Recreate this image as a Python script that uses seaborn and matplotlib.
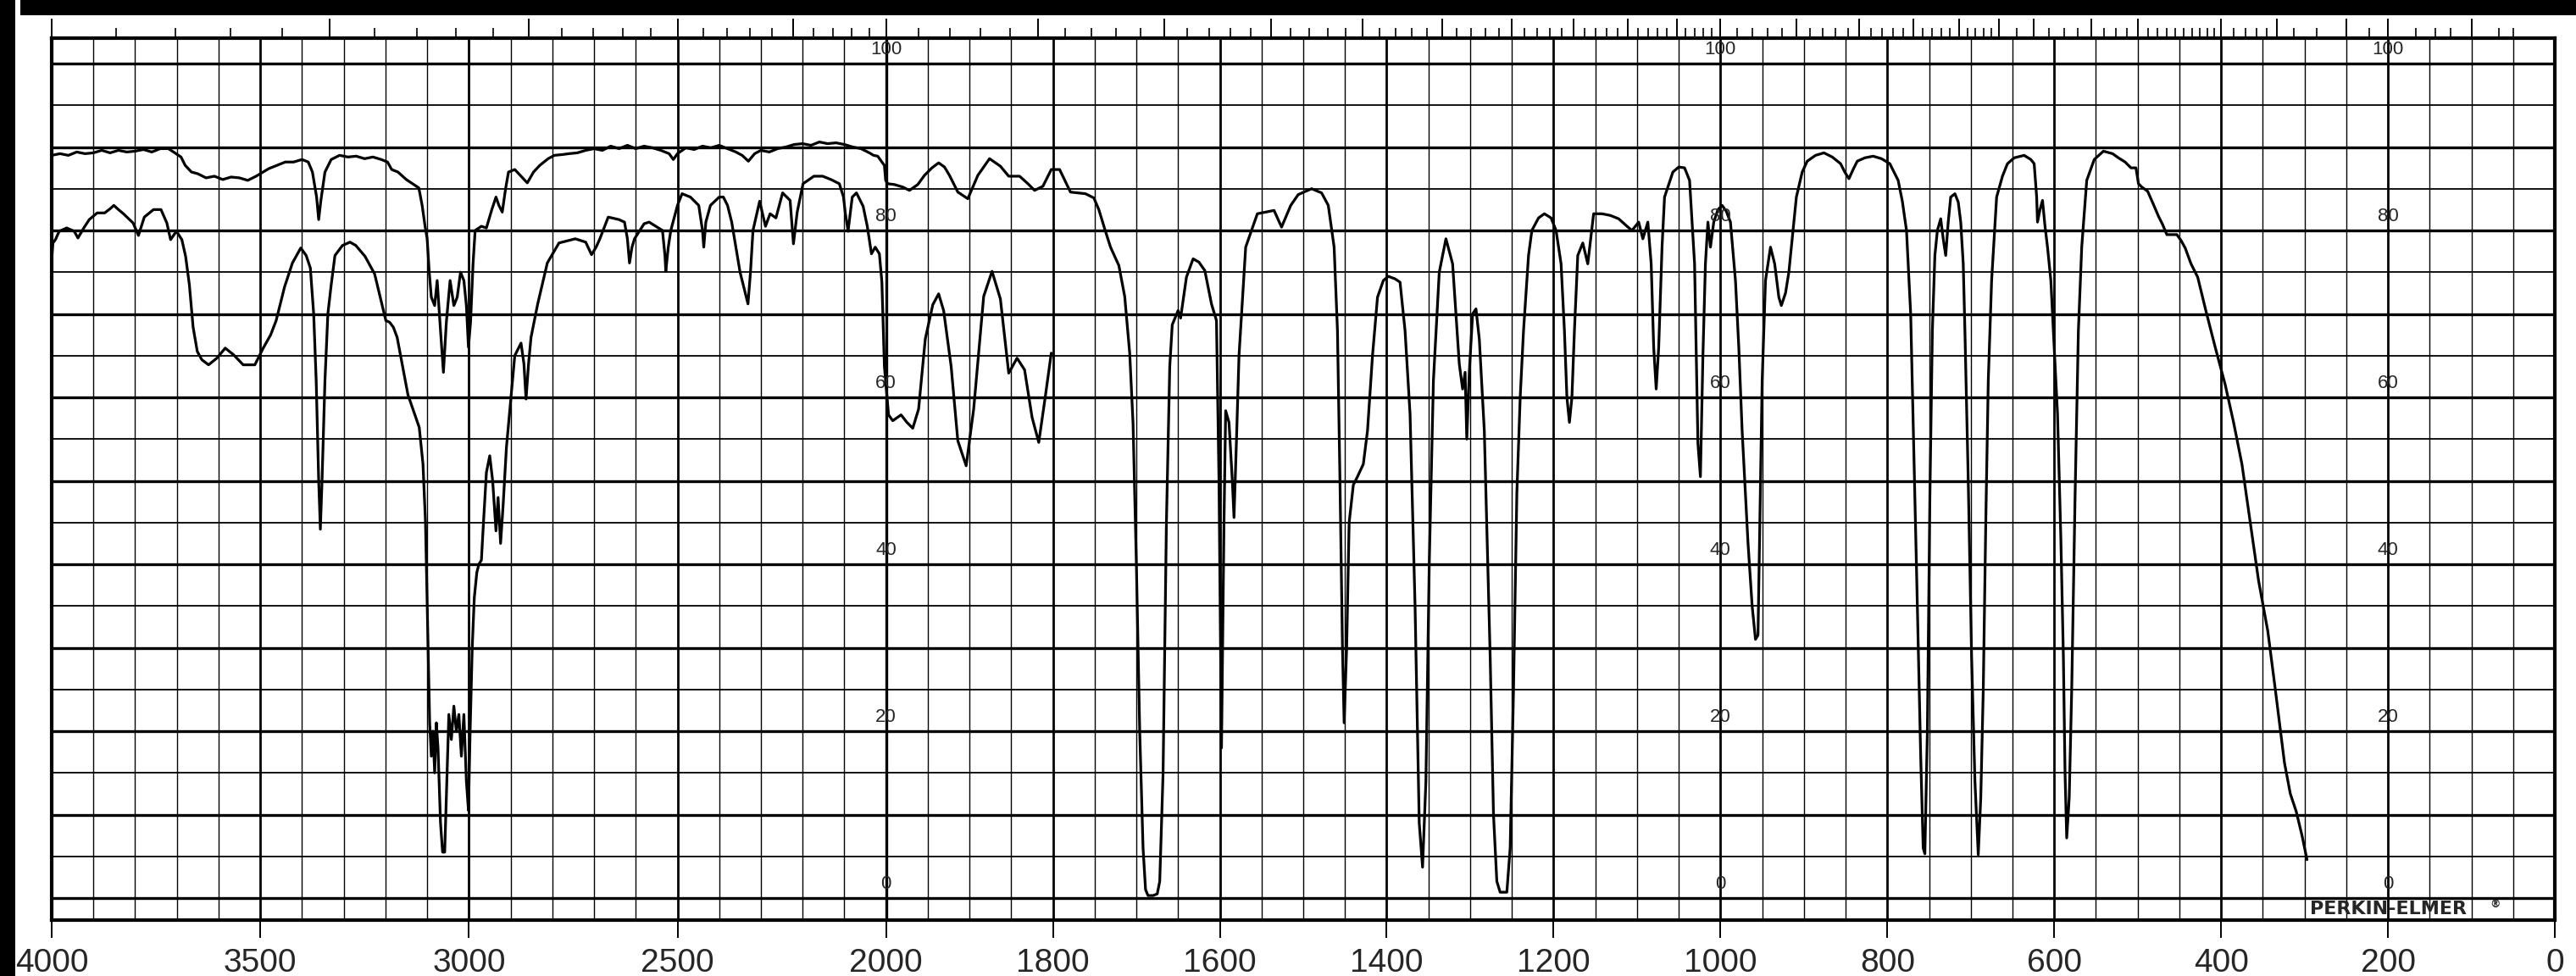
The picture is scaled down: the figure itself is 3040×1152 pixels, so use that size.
import numpy as np
import pandas as pd
import seaborn as sns
import matplotlib.pyplot as plt
from matplotlib.patches import Rectangle

# ---------------- data ----------------
upper_wn = [4000, 3980, 3960, 3940, 3920, 3900, 3880, 3860, 3840, 3820, 3800, 3780, 3760, 3740, 3720, 3705,
            3690, 3680, 3665, 3650, 3630, 3610, 3590, 3570, 3550, 3530, 3510, 3500, 3480, 3460, 3440, 3420,
            3400, 3385, 3375, 3365, 3360, 3355, 3345, 3330, 3310, 3290, 3270, 3250, 3230, 3210, 3195, 3185,
            3170, 3150, 3135, 3120, 3112, 3105, 3100, 3095, 3090, 3082, 3076, 3068, 3061, 3054, 3045, 3036,
            3028, 3020, 3012, 3006, 3001, 2996, 2990, 2985, 2970, 2958, 2945, 2935, 2928, 2920, 2912, 2905,
            2890, 2875, 2860, 2845, 2830, 2810, 2795, 2775, 2760, 2740, 2720, 2700, 2680, 2660, 2640, 2620,
            2600, 2580, 2560, 2540, 2520, 2510, 2500, 2480, 2460, 2440, 2420, 2400, 2380, 2360, 2345, 2330,
            2315, 2300, 2280, 2260, 2240, 2220, 2200, 2180, 2160, 2140, 2120, 2100, 2080, 2060, 2040, 2030,
            2020, 2010, 2004, 2001,
            1998, 1990, 1980, 1972, 1962, 1954, 1945, 1937, 1930, 1924, 1914, 1902, 1890, 1876, 1863, 1853,
            1840, 1830, 1822, 1812, 1802, 1792, 1779, 1761, 1751, 1745, 1738, 1731, 1721, 1714, 1708, 1704,
            1700, 1696, 1692, 1689, 1686, 1680, 1675, 1672, 1668, 1664, 1660, 1657, 1650, 1647, 1640, 1632,
            1625, 1618, 1610, 1604, 1601, 1598, 1595, 1593, 1589, 1585, 1583, 1580, 1577, 1569, 1555, 1535,
            1526, 1515, 1506, 1490, 1478, 1470, 1463, 1459, 1456, 1453, 1451, 1448, 1445, 1440, 1435, 1428,
            1423, 1417, 1411, 1404, 1398, 1390, 1384, 1378, 1372, 1366, 1361, 1357, 1353, 1349, 1344, 1337,
            1329, 1321, 1313, 1309, 1306, 1304, 1301, 1297, 1293, 1289, 1283, 1276, 1272, 1268, 1264, 1256,
            1252, 1248, 1244, 1240, 1236, 1230, 1226, 1218, 1211, 1203, 1197, 1191, 1187, 1184, 1181, 1178,
            1175, 1171, 1165, 1159, 1152, 1142, 1132, 1122, 1112, 1106, 1098, 1093, 1087, 1083, 1080, 1077,
            1074, 1070, 1067, 1057, 1050, 1043, 1037, 1031, 1027, 1024, 1021, 1018, 1015, 1012, 1008, 1003,
            998, 993, 988, 982, 978, 974, 967, 962, 958, 955, 952, 950, 946, 940, 935, 930,
            927, 922, 918, 913, 909, 902, 896, 886, 876, 866, 856, 851, 846, 841, 836, 827,
            817, 807, 797, 792, 787, 782, 777, 772, 768, 764, 760, 757, 755, 752, 749, 746,
            743, 740, 736, 733, 730, 727, 724, 719, 715, 712, 709, 707, 703, 699, 695, 691,
            688, 685, 682, 679, 675, 669, 662, 656, 648, 636, 628, 624, 621, 620, 617, 614,
            611, 608, 604, 600, 596, 592, 589, 587, 585, 582, 579, 575, 571, 567, 561, 552,
            541, 530, 523, 515, 508, 502, 499, 495, 488, 481, 475, 470, 465, 459, 453, 448,
            443, 436, 428, 418, 407, 395, 385, 375, 365, 355, 344, 335, 324, 317, 310, 303,
            297]
upper_t = [89.0, 89.2, 89.0, 89.4, 89.2, 89.3, 89.6, 89.3, 89.6, 89.4, 89.5, 89.7, 89.4, 89.8, 89.8, 89.3,
           88.8, 87.8, 87.0, 86.8, 86.3, 86.5, 86.1, 86.4, 86.3, 86.0, 86.5, 86.8, 87.4, 87.8, 88.2, 88.2,
           88.5, 88.2, 87.0, 84.0, 81.3, 83.5, 87.0, 88.5, 89.0, 88.8, 88.9, 88.6, 88.8, 88.5, 88.2, 87.3,
           87.0, 86.1, 85.6, 85.1, 83.0, 80.5, 79.0, 75.0, 72.0, 71.0, 74.0, 68.0, 63.0, 69.0, 74.0, 71.0,
           72.0, 75.0, 74.0, 71.0, 66.0, 69.0, 76.0, 80.0, 80.5, 80.3, 82.5, 84.0, 83.0, 82.2, 85.0, 87.0,
           87.3, 86.5, 85.7, 87.0, 87.8, 88.6, 89.0, 89.1, 89.2, 89.3, 89.6, 89.8, 89.6, 90.1, 89.8, 90.2,
           89.8, 90.1, 89.9, 89.6, 89.2, 88.5, 89.2, 89.9, 89.7, 90.1, 89.9, 90.2, 89.8, 89.4, 89.0, 88.3,
           89.2, 89.6, 89.4, 89.8, 90.0, 90.3, 90.4, 90.2, 90.6, 90.4, 90.5, 90.3, 90.0, 89.8, 89.3, 89.0,
           88.9, 88.2, 87.8, 86.0,
           85.6, 85.5, 85.2, 84.8, 85.5, 86.6, 87.5, 88.1, 87.6, 86.6, 84.6, 83.8, 86.6, 88.6, 87.7, 86.5,
           86.5, 85.6, 84.8, 85.3, 87.3, 87.3, 84.6, 84.4, 83.9, 82.5, 80.2, 78.0, 75.8, 72.1, 65.3, 56.9,
           40.0, 20.0, 6.0, 1.0, 0.3, 0.3, 0.5, 2.0, 15.0, 45.0, 63.7, 68.7, 70.4, 69.5, 74.4, 76.6,
           76.2, 75.2, 71.2, 69.2, 50.0, 18.0, 45.0, 58.4, 57.0, 50.0, 45.6, 55.0, 65.0, 78.0, 82.0, 82.4,
           80.4, 83.0, 84.3, 85.0, 84.5, 83.0, 78.0, 68.0, 50.0, 30.0, 21.0, 30.0, 45.0, 49.5, 50.5, 52.0,
           56.0, 65.0, 72.0, 74.0, 74.5, 74.2, 73.8, 68.0, 58.0, 35.0, 9.0, 3.7, 14.0, 40.0, 62.0, 75.0,
           79.0, 76.0, 64.0, 61.0, 63.0, 55.0, 63.0, 70.0, 70.6, 67.0, 56.0, 29.0, 10.0, 2.0, 0.7, 0.7,
           6.0, 25.0, 48.5, 60.0, 68.0, 77.0, 80.0, 81.5, 82.0, 81.5, 80.0, 76.0, 68.0, 60.0, 57.0, 60.0,
           68.0, 77.0, 78.5, 76.0, 82.0, 82.0, 81.8, 81.4, 80.5, 80.0, 81.0, 79.0, 81.0, 76.0, 66.0, 61.0,
           66.0, 78.0, 84.0, 87.0, 87.6, 87.5, 86.0, 76.0, 54.5, 50.5, 65.0, 76.0, 81.0, 78.0, 81.0, 82.5,
           83.0, 82.3, 81.0, 74.0, 66.0, 56.0, 42.6, 35.0, 31.0, 31.5, 50.0, 62.0, 74.0, 78.0, 76.0, 72.0,
           71.0, 72.5, 75.0, 80.0, 84.0, 87.0, 88.3, 89.0, 89.3, 88.8, 88.0, 87.0, 86.2, 87.3, 88.3, 88.7,
           88.9, 88.6, 88.0, 87.0, 86.0, 83.5, 80.0, 70.0, 52.5, 35.0, 17.0, 6.0, 5.3, 20.0, 48.0, 68.0,
           77.0, 80.0, 81.4, 79.0, 77.0, 81.0, 84.0, 84.4, 83.4, 81.0, 76.0, 68.0, 50.0, 29.0, 14.0, 5.2,
           12.0, 25.0, 45.0, 62.0, 74.0, 84.0, 86.5, 88.0, 88.7, 89.0, 88.5, 88.0, 84.0, 81.0, 82.5, 83.6,
           80.5, 78.0, 74.0, 66.0, 58.0, 43.0, 29.0, 15.0, 7.2, 12.0, 25.0, 48.0, 68.0, 78.0, 86.0, 88.5,
           89.5, 89.2, 88.7, 88.2, 87.5, 87.5, 85.6, 85.2, 84.7, 83.1, 81.7, 80.7, 79.5, 79.5, 79.5, 78.8,
           77.9, 76.0, 74.4, 70.3, 66.0, 61.5, 57.0, 52.0, 45.0, 38.0, 32.0, 25.0, 16.2, 12.5, 10.4, 7.5,
           4.6]

lower_wn = [4000, 3997, 3991, 3982, 3964, 3946, 3937, 3923, 3910, 3891, 3873, 3860, 3851, 3840, 3828, 3805,
            3792, 3778, 3756, 3738, 3724, 3715, 3701, 3688, 3679, 3670, 3661, 3651, 3640, 3624, 3604, 3584,
            3564, 3541, 3513, 3493, 3475, 3462, 3442, 3423, 3403, 3390, 3380, 3372, 3366, 3360, 3356, 3352,
            3345, 3338, 3330, 3321, 3303, 3285, 3271, 3249, 3226, 3213, 3199, 3190, 3181, 3172, 3160, 3146,
            3130, 3119, 3110, 3104, 3099, 3094, 3090, 3086, 3082, 3078, 3074, 3068, 3063, 3058, 3054, 3048,
            3042, 3036, 3030, 3024, 3018, 3012, 3006, 3001, 2997, 2992, 2987, 2981, 2976, 2970, 2965, 2958,
            2950, 2943, 2935, 2930, 2924, 2918, 2910, 2902, 2890, 2875, 2868, 2863, 2857, 2851, 2835, 2812,
            2784, 2745, 2720, 2706, 2695, 2686, 2666, 2640, 2627, 2620, 2615, 2609, 2603, 2580, 2568, 2536,
            2530, 2528, 2522, 2516, 2500, 2489, 2469, 2449, 2440, 2437, 2432, 2421, 2400, 2390, 2380, 2370,
            2350, 2340, 2331, 2325, 2319, 2303, 2289, 2278, 2264, 2248, 2230, 2226, 2222, 2217, 2213, 2199,
            2173, 2152, 2132, 2112, 2102, 2098, 2091, 2086, 2081, 2071, 2055, 2045, 2035, 2026, 2016, 2010,
            2004,
            1999, 1997, 1992, 1982, 1975, 1968, 1961, 1953, 1944, 1937, 1931, 1922, 1914, 1904, 1895, 1883,
            1873, 1863, 1853, 1843, 1834, 1825, 1817, 1809, 1802]
lower_t = [76.5, 78.5, 78.9, 79.9, 80.3, 79.9, 79.1, 80.3, 81.3, 82.1, 82.1, 82.6, 83.0, 82.5, 82.0, 80.9,
           79.4, 81.6, 82.5, 82.5, 80.9, 78.9, 79.9, 78.9, 76.9, 73.5, 68.4, 65.5, 64.5, 63.9, 64.7, 65.9,
           65.1, 63.9, 63.9, 65.9, 67.5, 69.2, 73.2, 76.1, 77.9, 77.0, 75.5, 70.0, 62.0, 50.0, 44.2, 50.0,
           62.0, 70.0, 73.5, 77.0, 78.2, 78.6, 78.2, 76.9, 74.8, 72.1, 69.2, 69.0, 68.4, 67.2, 64.0, 60.3,
           58.0, 56.4, 52.0, 45.0, 33.0, 21.0, 17.0, 20.0, 15.0, 21.0, 18.0, 9.0, 5.5, 5.5, 12.0, 22.0,
           19.0, 23.0, 20.0, 22.0, 17.0, 22.0, 14.0, 10.5, 20.0, 30.0, 36.0, 39.0, 40.0, 40.5, 45.0, 51.0,
           53.0, 50.0, 44.0, 48.0, 42.5, 47.0, 54.0, 58.4, 65.0, 66.5, 64.0, 59.8, 64.0, 67.2, 71.2, 76.1,
           78.5, 79.0, 78.6, 77.1, 78.0, 79.0, 81.6, 81.3, 81.0, 79.0, 76.1, 78.0, 79.0, 80.8, 81.0, 80.0,
           77.0, 75.1, 78.0, 80.0, 83.0, 84.4, 84.0, 83.0, 80.0, 78.0, 81.0, 83.0, 84.0, 84.0, 83.0, 81.0,
           75.0, 73.0, 71.2, 75.0, 80.0, 83.5, 80.5, 82.0, 81.5, 84.5, 83.6, 81.0, 78.4, 80.5, 82.2, 85.6,
           86.5, 86.5, 86.1, 85.6, 84.0, 82.2, 79.9, 82.0, 84.0, 84.5, 82.9, 80.5, 77.2, 78.0, 77.2, 73.8,
           63.7,
           60.2, 57.9, 57.2, 57.9, 57.0, 56.3, 58.6, 67.0, 71.1, 72.4, 70.4, 63.7, 54.8, 51.8, 58.6, 72.1,
           75.1, 71.8, 62.9, 64.7, 63.3, 57.6, 54.6, 60.2, 65.3]

x_tick_values = [4000, 3500, 3000, 2500, 2000, 1800, 1600, 1400, 1200, 1000, 800, 600, 400, 200, 0]
x_tick_labels = ["4000", "3500", "3000", "2500", "2000", "1800", "1600", "1400", "1200", "1000",
                 "800", "600", "400", "200", "0"]
t_label_values = [100, 80, 60, 40, 20, 0]
t_label_columns = [2000, 1000, 200]
brand_text = "PERKIN-ELMER"

# ---------------- scale: 4000-2000 compressed 2x ----------------
def fwd(w):
    w = np.asarray(w, dtype=float)
    return np.where(w <= 2000, w, 2000 + (w - 2000) / 2.0)

def inv(u):
    u = np.asarray(u, dtype=float)
    return np.where(u <= 2000, u, 2000 + (u - 2000) * 2.0)

sns.set_style("white")
LABEL_FONT = ['Liberation Sans', 'DejaVu Sans']
plt.rcParams['font.family'] = LABEL_FONT

W, H = 3040, 1152
fig = plt.figure(figsize=(W / 100, H / 100), dpi=100)
fig.patch.set_facecolor('white')
ax_bottom_px, ax_top_px = 1086, 45
ax = fig.add_axes([61 / W, (H - ax_bottom_px) / H, (3015 - 61) / W, (ax_bottom_px - ax_top_px) / H])
ax.set_xscale('function', functions=(fwd, inv))
ax.set_xlim(4000, 0)
px_per_unit = 9.85
ax.set_ylim(-(ax_bottom_px - 1060) / px_per_unit, (1060 - ax_top_px) / px_per_unit)

# grid
for w in range(3900, 2000, -100):
    major = (w % 500 == 0)
    ax.axvline(w, color='black', lw=2.0 if major else 1.0, zorder=1)
ax.axvline(2000, color='black', lw=2.4, zorder=1)
for w in range(1950, 0, -50):
    major = (w % 200 == 0)
    ax.axvline(w, color='black', lw=2.0 if major else 1.0, zorder=1)
for t in range(0, 101, 5):
    ax.axhline(t, color='black', lw=2.4 if t % 10 == 0 else 1.3, zorder=1)

# spectra
df = pd.concat([
    pd.DataFrame({'wn': upper_wn, 'T': upper_t, 'trace': 'upper'}),
    pd.DataFrame({'wn': lower_wn, 'T': lower_t, 'trace': 'lower'}),
], ignore_index=True)
sns.lineplot(data=df, x='wn', y='T', units='trace', estimator=None, sort=False,
             color='black', lw=2.3, ax=ax, legend=False, zorder=3)

ax.set_xlabel('')
ax.set_ylabel('')
ax.set_yticks([])
ax.set_xticks(x_tick_values)
ax.set_xticklabels(x_tick_labels, fontsize=28, family=LABEL_FONT)
ax.tick_params(axis='x', which='major', direction='out', length=15, width=1.4, pad=9,
               bottom=True, top=False, color='black')
ax.tick_params(axis='x', which='minor', bottom=False, top=False)
for s in ax.spines.values():
    s.set_linewidth(3.0)
    s.set_color('black')

# in-chart transmittance labels
for c in t_label_columns:
    for v in t_label_values:
        ax.text(c, v + 0.6, str(v), ha='center', va='bottom', fontsize=16, zorder=4,
                family=LABEL_FONT)

# wavelength ruler on top (microns)
um_long = [2.5, 3.0, 3.5, 4.0, 4.5, 5.0, 5.5, 6.0, 6.5, 7.0, 7.5, 8.0, 8.5, 9.0, 9.5, 10, 11, 12, 13, 14,
           15, 16, 18, 20, 25, 30, 40, 50, 100]
um_short = ([round(2.5 + 0.1 * i, 2) for i in range(1, 75)] +
            [round(10 + 0.2 * i, 2) for i in range(1, 25)] +
            [round(15 + 0.5 * i, 2) for i in range(1, 20)] +
            [26, 27, 28, 29, 32, 35, 45, 60, 70, 80, 150, 200])
um_short = [u for u in um_short if u not in um_long]
trans = ax.get_xaxis_transform()
ax_h = ax_bottom_px - ax_top_px
ax.vlines([1e4 / u for u in um_long], 1.0, 1.0 + 23 / ax_h, transform=trans, color='black',
          lw=1.4, clip_on=False)
ax.vlines([1e4 / u for u in um_short], 1.0, 1.0 + 12 / ax_h, transform=trans, color='black',
          lw=1.2, clip_on=False)

# brand
ax.text(200, -1.35, brand_text, ha='center', va='center', fontsize=16, fontweight='bold',
        family='DejaVu Sans', zorder=5)
ax.text(72, -0.8, "\u00ae", ha='center', va='center', fontsize=9, fontweight='bold',
        family='DejaVu Sans', zorder=5)

# black scan borders
fig.patches.append(Rectangle((0, 0), 18 / W, 1, transform=fig.transFigure, facecolor='black',
                             edgecolor='none', zorder=10))
fig.patches.append(Rectangle((24 / W, 1 - 18 / H), 1, 18 / H, transform=fig.transFigure,
                             facecolor='black', edgecolor='none', zorder=10))

fig.savefig('out.png', dpi=100, facecolor='white')
